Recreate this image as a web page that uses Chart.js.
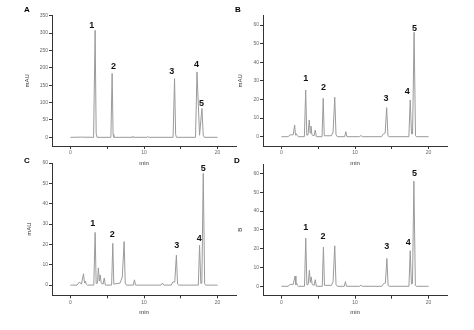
<!DOCTYPE html>
<html lang="en">
<head>
<meta charset="UTF-8">
<title>HPLC chromatograms</title>
<script src="https://cdn.jsdelivr.net/npm/chart.js@4.4.0/dist/chart.umd.min.js"></script>
<style>
  body { margin: 0; background: #fff; }
  #wrap { position: relative; width: 474px; height: 330px; overflow: hidden; }
  canvas { position: absolute; }
  .tag { position: absolute; font: bold 8px "Liberation Sans", Arial, sans-serif; color: #000; line-height: 10px; }
</style>
</head>
<body>
<div id="wrap">
  <canvas id="chartA" style="left:0px;top:0px" width="237" height="170"></canvas>
  <canvas id="chartB" style="left:225px;top:0px" width="249" height="170"></canvas>
  <canvas id="chartC" style="left:0px;top:150px" width="237" height="180"></canvas>
  <canvas id="chartD" style="left:225px;top:150px" width="249" height="180"></canvas>
  <div class="tag" style="left:24px;top:5px">A</div>
  <div class="tag" style="left:235px;top:5px">B</div>
  <div class="tag" style="left:24px;top:156px">C</div>
  <div class="tag" style="left:234px;top:156px">D</div>
</div>
<script>
// retention time (min) and detector signal for each run
const aTime = [0, 1.5, 3.15, 3.36, 3.5, 3.62, 5.5, 5.67, 5.8, 5.9, 8.4, 8.5, 8.6, 10.4, 10.5, 10.6,
  13.95, 14.15, 14.3, 14.42, 17.0, 17.2, 17.55, 17.87, 18.05, 18.2, 20];
const aSignal = [0, 0.5, 0, 308, 12, 0, 0, 184, 8, 0, 0, 3, 0, 0, 2.5, 0,
  0, 169, 8, 0, 0, 188, 6, 83, 6, 0, 0];

const bTime = [0, 0.9, 1.2, 1.6, 1.8, 1.92, 2.05, 2.15, 2.3,
  3.12, 3.3, 3.45, 3.62, 3.78, 3.9, 4.02, 4.15, 4.45, 4.6, 4.75,
  5.52, 5.68, 5.82, 6.8, 7.02, 7.25, 7.42, 7.6, 8.6, 8.75, 8.9, 10.6, 10.8, 11.0,
  13.6, 13.85, 14.1, 14.3, 14.48, 14.65, 17.32, 17.5, 17.68, 17.82, 18.03, 18.22, 18.4, 20];
const bSignal = [0, 0, 1, 1, 6.3, 0.8, 1.6, 0.5, 0,
  0, 25.1, 0.8, 1, 9, 2, 5.7, 1, 0.5, 3.6, 0,
  0, 20.6, 0.5, 0.5, 2.5, 21.2, 1, 0, 0, 2.7, 0, 0, 0.6, 0,
  0, 1.5, 2, 15.6, 0.5, 0, 0, 19.7, 1.5, 1.5, 56.1, 0.5, 0, 0];

const cTime = [0, 0.9, 1.2, 1.5, 1.78, 1.92, 2.05, 2.15, 2.3,
  3.18, 3.36, 3.5, 3.68, 3.8, 3.93, 4.05, 4.18, 4.45, 4.6, 4.75,
  5.6, 5.76, 5.9, 6.75, 7.05, 7.3, 7.45, 7.62, 8.55, 8.7, 8.85, 12.3, 12.5, 12.7,
  13.7, 13.9, 14.18, 14.4, 14.56, 14.72, 17.38, 17.55, 17.72, 17.86, 18.05, 18.24, 18.4, 20];
const cSignal = [0, 0, 1.5, 0.5, 5.6, 1, 2, 0.5, 0,
  0, 25.9, 0.8, 1, 8.5, 2, 5, 1, 0.5, 3.5, 0,
  0, 20.5, 0.5, 1, 4, 21.4, 1, 0, 0, 2.6, 0, 0, 1, 0,
  0, 1.5, 1.5, 14.7, 0.5, 0, 0, 19.6, 0.8, 1, 54.9, 0.5, 0, 0];

const dTime = [0, 0.9, 1.2, 1.6, 1.85, 1.97, 2.08, 2.18, 2.3,
  3.14, 3.31, 3.46, 3.64, 3.8, 3.92, 4.05, 4.18, 4.45, 4.6, 4.75,
  5.55, 5.71, 5.85, 6.8, 7.02, 7.25, 7.42, 7.6, 8.55, 8.7, 8.85, 10.6, 10.8, 11.0,
  13.65, 13.9, 14.13, 14.33, 14.5, 14.66, 17.33, 17.5, 17.67, 17.81, 18.0, 18.2, 18.36, 20];
const dSignal = [0, 0, 1, 1, 5.4, 0.8, 1.5, 0.5, 0,
  0, 25.6, 0.8, 1, 8.5, 2, 5, 1, 0.5, 3.5, 0,
  0, 20.8, 0.5, 0.5, 2.5, 21.5, 1, 0, 0, 2.5, 0, 0, 0.6, 0,
  0, 1.5, 1.8, 14.8, 0.5, 0, 0, 18.9, 1.2, 1.5, 55.9, 0.5, 0, 0];

// numbered compounds, by retention time of their apex
const peakNames = ['1', '2', '3', '4', '5'];
const aPeakTimes = [3.36, 5.67, 14.15, 17.2, 17.87];
const bPeakTimes = [3.3, 5.68, 14.3, 17.5, 18.03];
const cPeakTimes = [3.36, 5.76, 14.4, 17.55, 18.05];
const dPeakTimes = [3.31, 5.71, 14.33, 17.5, 18.0];

// time axis tick marks; only every other one carries a label
const timeTicks = [0, 5, 10, 15, 20];
const timeLabels = ['0', '', '10', '', '20'];

const axisColor = '#333';
const tickColor = '#666';
const fontFamily = '"Liberation Sans", Arial, sans-serif';

// writes the compound number above each apex
const peakTags = {
  id: 'peakTags',
  afterDatasetsDraw(chart, args, opts) {
    const {ctx, scales: {x, y}} = chart;
    const pts = chart.data.datasets[0].data;
    ctx.save();
    ctx.font = 'bold 9px ' + fontFamily;
    ctx.fillStyle = '#111';
    ctx.textAlign = 'center';
    ctx.textBaseline = 'middle';
    opts.times.forEach((t, i) => {
      const p = pts.find(d => d.x === t);
      const [dx, dy] = opts.shift[i];
      ctx.fillText(peakNames[i], x.getPixelForValue(p.x) + dx, y.getPixelForValue(p.y) - dy);
    });
    ctx.restore();
  }
};

function makeChart(id, time, signal, yr, yTitle, peaks, shift, box) {
  const yTicks = [];
  for (let v = 0; v <= yr[1]; v += yr[2]) yTicks.push({value: v});
  return new Chart(document.getElementById(id), {
    type: 'line',
    data: {
      datasets: [{
        data: time.map((t, i) => ({x: t, y: signal[i]})),
        borderColor: '#9a9a9a',
        borderWidth: 1,
        pointRadius: 0,
        tension: 0
      }]
    },
    options: {
      responsive: false,
      animation: false,
      layout: {padding: box.pad},
      plugins: {
        legend: {display: false},
        tooltip: {enabled: false},
        peakTags: {times: peaks, shift: shift}
      },
      scales: {
        x: {
          type: 'linear',
          min: -2.5,
          max: 22.5,
          afterBuildTicks: s => { s.ticks = timeTicks.map(v => ({value: v})); },
          afterFit: s => { s.height = box.xH; },
          grid: {drawOnChartArea: false, tickLength: 3, color: axisColor},
          border: {color: axisColor},
          ticks: {
            autoSkip: false, maxRotation: 0,
            padding: 1, color: tickColor, font: {size: 5, family: fontFamily},
            callback: (v, i) => timeLabels[i]
          },
          title: {display: true, text: 'min', color: axisColor,
            font: {size: 6, family: fontFamily}, padding: {top: 0, bottom: box.xT}}
        },
        y: {
          min: yr[0],
          max: yr[1],
          afterBuildTicks: s => { s.ticks = yTicks.slice(); },
          afterFit: s => { s.width = box.yW; },
          grid: {drawOnChartArea: false, tickLength: 3, color: axisColor},
          border: {color: axisColor},
          ticks: {
            autoSkip: false, padding: 1,
            color: tickColor, font: {size: 5, family: fontFamily}
          },
          title: {display: true, text: yTitle, color: axisColor,
            font: {size: 6, family: fontFamily}, padding: {top: box.yT, bottom: 0}}
        }
      }
    },
    plugins: [peakTags]
  });
}

makeChart('chartA', aTime, aSignal, [-25, 350, 50], 'mAU', aPeakTimes,
  [[-3.4, 4.6], [1.3, 6.6], [-2.7, 6.6], [-0.4, 7], [-0.3, 5]],
  {pad: {top: 15.7, left: 0, right: 1, bottom: 0}, yW: 52, xH: 24, yT: 23.4, xT: 3.4});

makeChart('chartB', bTime, bSignal, [-5, 65, 10], 'mAU', bPeakTimes,
  [[0, 11], [0.4, 10.6], [-0.7, 8.7], [-3, 9], [0.4, 4]],
  {pad: {top: 15.7, left: 0, right: 27, bottom: 0}, yW: 38, xH: 24, yT: 11.4, xT: 3.4});

makeChart('chartC', cTime, cSignal, [-5, 60, 10], 'mAU', cPeakTimes,
  [[-2.4, 9], [-0.6, 9], [0.3, 9.7], [-0.3, 7], [0, 5]],
  {pad: {top: 13, left: 0, right: 1, bottom: 0}, yW: 52, xH: 34.7, yT: 25.4, xT: 14.4});

makeChart('chartD', dTime, dSignal, [-5, 65, 10], 'B', dPeakTimes,
  [[0, 11], [-0.4, 10.6], [0, 12], [-2, 8.4], [0.7, 7.3]],
  {pad: {top: 14, left: 0, right: 27, bottom: 0}, yW: 38, xH: 34.3, yT: 11.4, xT: 13.7});
</script>
</body>
</html>
